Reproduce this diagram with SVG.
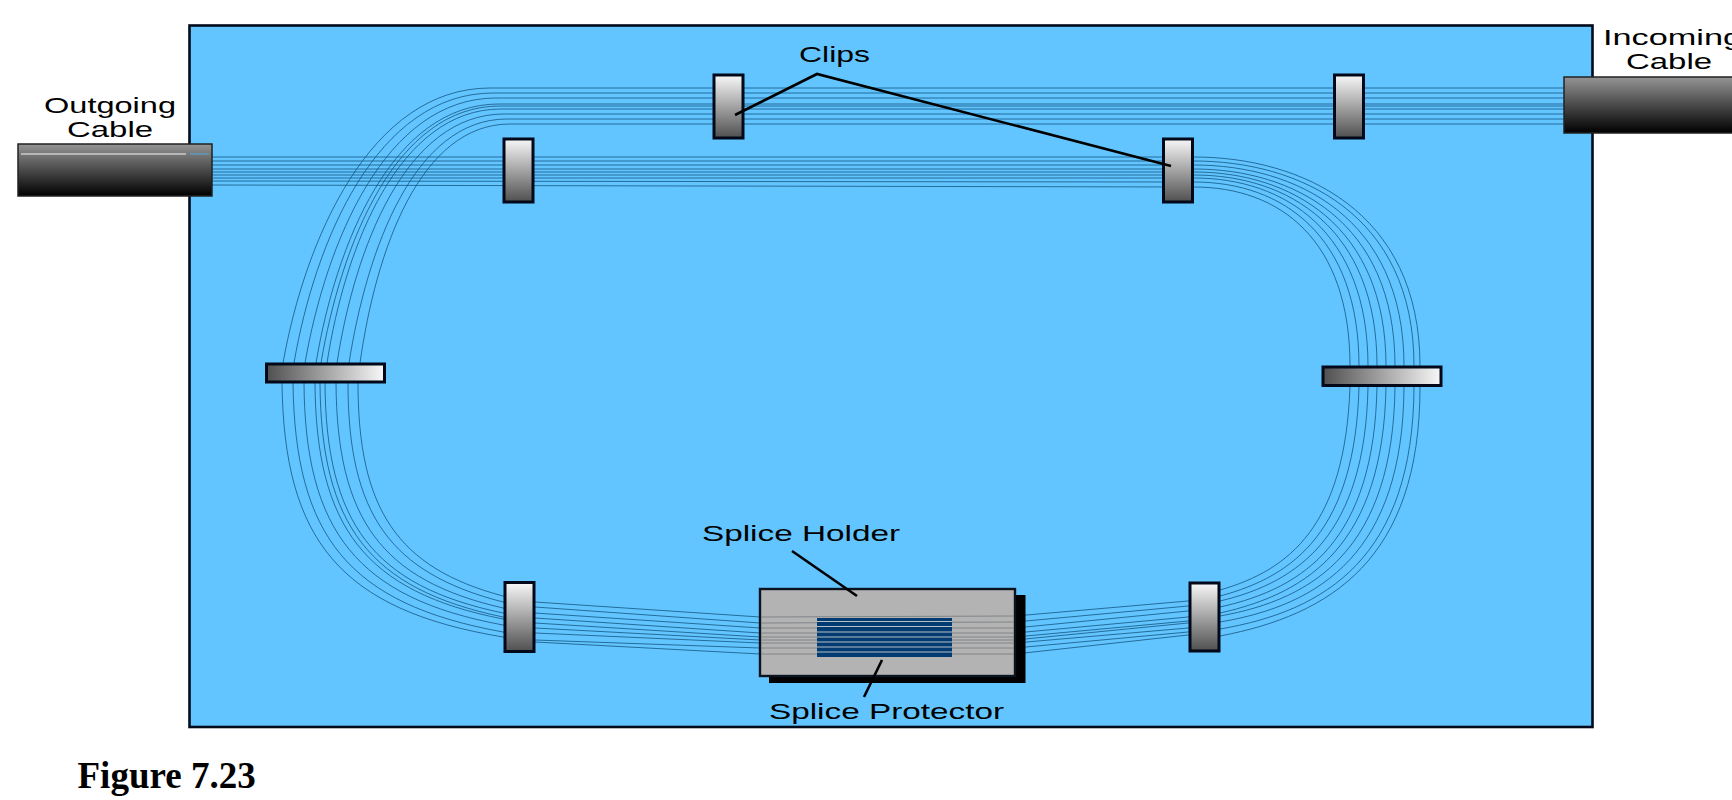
<svg xmlns="http://www.w3.org/2000/svg" width="1732" height="800" viewBox="0 0 1732 800">
<defs>
<linearGradient id="gv" x1="0" y1="0" x2="0" y2="1"><stop offset="0" stop-color="#f8f8f8"/><stop offset="1" stop-color="#4f4f4f"/></linearGradient>
<linearGradient id="gh" x1="0" y1="0" x2="1" y2="0"><stop offset="0" stop-color="#4f4f4f"/><stop offset="1" stop-color="#f8f8f8"/></linearGradient>
<linearGradient id="gc" x1="0" y1="0" x2="0" y2="1"><stop offset="0" stop-color="#949494"/><stop offset="1" stop-color="#000"/></linearGradient>
</defs>
<style>
.clipv{fill:url(#gv);stroke:#00081a;stroke-width:3}
.cliph{fill:url(#gh);stroke:#00081a;stroke-width:3}
.cable{fill:url(#gc);stroke:#222;stroke-width:1.5}
.fiber{fill:none;stroke:#0f4f78;stroke-width:.75}
.hf{fill:none;stroke:#7a7f82;stroke-width:.9}
.pf{fill:none;stroke:#b6bec6;stroke-width:1}
.lead{fill:none;stroke:#000;stroke-width:2.6}
text{font-family:"Liberation Sans",Arial,sans-serif;font-size:22px;fill:#000;lengthAdjust:spacingAndGlyphs}
</style>
<rect id="panel" x="189.5" y="25.5" width="1403" height="701.5" fill="#63c5ff" stroke="#000a1a" stroke-width="2.6"/>
<g id="connectors">
<path class="fiber" d="M212,157 L1194,157 C1300,157 1420,210 1420,366 L1420,387 C1420,560 1330,615 1220,636 L1188,635 L1015,654 L760,654 L535,642 L503,637 C340,610 284,540 282,383 L283,363 C305,240 370,88 490,88 L1564,88"/>
<path class="fiber" d="M212,161 L1194,161 C1298,161 1414,213 1414,366 L1414,387 C1413,557 1326,611 1220,629 L1188,632 L1015,648 L760,648 L535,640 L503,632 C348,604 295,536 293,383 L294,363 C315,241 377,93 493,93 L1564,93"/>
<path class="fiber" d="M212,165 L1194,165 C1295,165 1404,217 1404,366 L1404,387 C1403,552 1321,605 1220,622 L1188,628 L1015,643 L760,643 L535,633 L503,625 C357,598 305,531 304,383 L305,363 C326,243 385,98 496,98 L1564,98"/>
<path class="fiber" d="M212,169 L1194,169 C1293,169 1395,221 1395,366 L1395,387 C1393,547 1316,599 1220,616 L1188,623 L1015,640 L760,640 L535,628 L503,619 C365,592 316,527 315,383 L316,363 C336,244 392,104 499,104 L1564,104"/>
<path class="fiber" d="M212,172 L1194,172 C1290,172 1386,225 1386,366 L1386,387 C1383,543 1310,593 1220,613 L1188,621 L1015,637 L760,637 L535,623 L503,617 C369,589 321,525 320,383 L321,363 C341,245 395,106 500,106 L1564,106"/>
<path class="fiber" d="M212,175 L1194,175 C1288,175 1377,228 1377,366 L1377,387 C1374,539 1306,588 1220,607 L1188,617 L1015,633 L760,633 L535,618 L503,613 C373,586 326,523 325,383 L327,363 C345,246 399,109 501,109 L1564,109"/>
<path class="fiber" d="M212,178 L1194,178 C1285,178 1368,232 1368,366 L1368,387 C1365,534 1300,582 1220,601 L1188,611 L1015,628 L760,628 L535,613 L503,608 C381,580 337,519 336,383 L337,363 C355,247 406,114 504,114 L1564,114"/>
<path class="fiber" d="M212,181 L1194,182 C1283,182 1359,236 1359,366 L1359,387 C1355,530 1295,576 1220,596 L1188,606 L1015,622 L760,623 L535,607 L503,602 C390,573 348,514 348,383 L349,363 C367,249 414,119 507,119 L1564,119"/>
<path class="fiber" d="M212,185 L1194,187 C1280,187 1350,240 1350,366 L1350,387 C1345,525 1290,570 1220,590 L1188,601 L1015,616 L760,617 L535,602 L503,596 C398,568 358,510 358,383 L360,363 C376,250 420,124 510,124 L1564,124"/>
</g>
<g id="outgoing-cable">
<rect class="cable" x="18" y="144" width="194" height="52"/>
<path d="M21,154 H186" stroke="#f4f4f4" stroke-width="1"/><path d="M190,154 H209" stroke="#4fa8dc" stroke-width="1"/>
<text x="44" y="113" textLength="132" lengthAdjust="spacingAndGlyphs">Outgoing</text>
<text x="67" y="137" textLength="86" lengthAdjust="spacingAndGlyphs">Cable</text>
</g>
<g id="incoming-cable">
<rect class="cable" x="1564" y="77" width="172" height="56"/>
<text x="1603" y="45" textLength="139" lengthAdjust="spacingAndGlyphs">Incoming</text>
<text x="1626" y="69" textLength="86" lengthAdjust="spacingAndGlyphs">Cable</text>
</g>
<g id="clip-1"><rect class="clipv" x="504" y="139" width="29" height="63"/></g>
<g id="clip-2"><rect class="clipv" x="714" y="75" width="29" height="63"/></g>
<g id="clip-3"><rect class="clipv" x="1163.5" y="139" width="29" height="63"/></g>
<g id="clip-4"><rect class="clipv" x="1334.5" y="75" width="29" height="63"/></g>
<g id="clip-5"><rect class="cliph" x="266.5" y="364" width="118" height="18"/></g>
<g id="clip-6"><rect class="cliph" x="1323" y="367" width="118" height="18.500"/></g>
<g id="clip-7"><rect class="clipv" x="505" y="582.500" width="29" height="69"/></g>
<g id="clip-8"><rect class="clipv" x="1190" y="583" width="29" height="68"/></g>
<g id="splice-holder">
<rect x="769" y="595" width="256.500" height="88" fill="#000"/>
<rect x="760" y="589" width="255" height="87" fill="#b3b3b3" stroke="#0a1420" stroke-width="2.4"/>
<path class="hf" d="M761,654 H1014 M761,648 H1014 M761,643 H1014 M761,640 H1014 M761,637 H1014 M761,633 H1014 M761,628 H1014 M761,623 L1014,622 M761,617 L1014,616"/>
<text x="702" y="541" textLength="198" lengthAdjust="spacingAndGlyphs">Splice Holder</text>
</g>
<g id="splice-protector">
<rect x="817" y="618" width="135" height="39" fill="#023a72"/>
<path class="pf" d="M817,621.500 H952 M817,626.500 H952 M817,632 H952 M817,637 H952 M817,642 H952 M817,647 H952 M817,652 H952"/>
<text x="769" y="719" textLength="235" lengthAdjust="spacingAndGlyphs">Splice Protector</text>
</g>
<g id="leaders">
<path class="lead" d="M735,115 L817,74 L1171,166"/>
<path class="lead" d="M792,551 L857,596"/>
<path class="lead" d="M882,660 L864,697"/>
</g>
<text id="clips-label" x="799" y="62" textLength="71" lengthAdjust="spacingAndGlyphs">Clips</text>
<text id="figure-caption" x="77.500" y="788" style="font-family:'Liberation Serif','Times New Roman',serif;font-size:37px;font-weight:bold">Figure 7.23</text>
</svg>
